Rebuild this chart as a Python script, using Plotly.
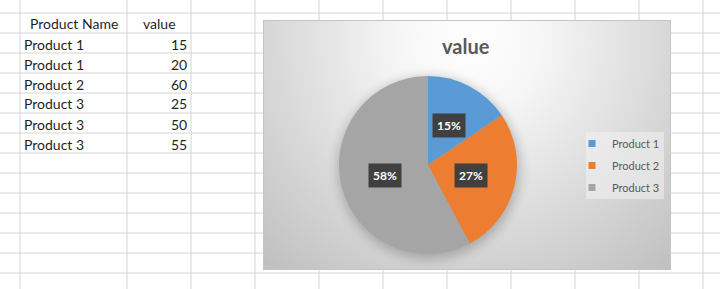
import base64
import math
import plotly.graph_objects as go

# ---------------- data ----------------
row_products = ["Product 1", "Product 1", "Product 2", "Product 3", "Product 3", "Product 3"]
row_values = [15, 20, 60, 25, 50, 55]
header = ["Product Name", "value"]
categories = ["Product 1", "Product 2", "Product 3"]
label_texts = ["15%", "27%", "58%"]  # as printed on the chart
chart_title = "value"

totals = [sum(v for p, v in zip(row_products, row_values) if p == c) for c in categories]

# ---------------- layout constants (pixels) ----------------
W, H = 720, 289
FONT = "Lato"
col_x = [20, 127, 191, 255, 319, 383, 447, 511, 575, 639, 703]
row_y = [13 + 20 * i for i in range(14)]
GRID = "#d4d4d4"
CH_L, CH_R, CH_T, CH_B = 263, 670, 20, 269   # chart object box
PIE_CX, PIE_CY, PIE_R = 428, 165, 89
LEG_L, LEG_R, LEG_T, LEG_B = 586, 664, 132, 199
colors = ["#5B9BD5", "#ED7D31", "#A5A5A5"]


def px(x):
    return x / W


def py(y):
    return 1 - y / H


fig = go.Figure()

fig.add_trace(go.Pie(
    labels=categories,
    values=totals,
    sort=False,
    direction="clockwise",
    rotation=0,
    marker=dict(colors=colors, line=dict(width=0)),
    textinfo="none",
    hoverinfo="label+value+percent",
    domain=dict(x=[px(PIE_CX - PIE_R), px(PIE_CX + PIE_R)],
                y=[py(PIE_CY + PIE_R), py(PIE_CY - PIE_R)]),
    showlegend=False,
))

# legend entries (small square keys like the original)
for c, col in zip(categories, colors):
    fig.add_trace(go.Scatter(x=[None], y=[None], mode="markers", name=c, legendgroup=c,
                             marker=dict(symbol="square", size=7, color=col),
                             hoverinfo="skip", showlegend=True))

# ---------------- spreadsheet grid (split around the chart box) ----------------
shapes = []
for x in col_x:
    if CH_L <= x <= CH_R:
        segs = [(0, CH_T), (CH_B, H)]
    else:
        segs = [(0, H)]
    for y0, y1 in segs:
        shapes.append(dict(type="line", xref="paper", yref="paper",
                           x0=px(x), x1=px(x), y0=py(y0), y1=py(y1),
                           line=dict(color=GRID, width=1), layer="below"))
for y in row_y:
    if CH_T <= y <= CH_B:
        segs = [(0, CH_L), (CH_R, W)]
    else:
        segs = [(0, W)]
    for x0, x1 in segs:
        shapes.append(dict(type="line", xref="paper", yref="paper",
                           x0=px(x0), x1=px(x1), y0=py(y), y1=py(y),
                           line=dict(color=GRID, width=1), layer="below"))

# ---------------- chart background (radial gradient + pie shadow + legend box) ----------------
svg = f'''<svg xmlns="http://www.w3.org/2000/svg" width="{W}" height="{H}" viewBox="0 0 {W} {H}">
<defs>
<radialGradient id="g" gradientUnits="userSpaceOnUse" cx="470" cy="40" r="330">
<stop offset="0" stop-color="#ffffff"/>
<stop offset="0.22" stop-color="#f6f6f6"/>
<stop offset="0.6" stop-color="#d8d8d8"/>
<stop offset="1" stop-color="#bababa"/>
</radialGradient>
<filter id="b" x="-50%" y="-50%" width="200%" height="200%"><feGaussianBlur stdDeviation="6"/></filter>
</defs>
<rect x="{CH_L}.5" y="{CH_T}.5" width="{CH_R - CH_L}" height="{CH_B - CH_T}" fill="url(#g)" stroke="#c4c4c4" stroke-width="1"/>
<circle cx="{PIE_CX + 1}" cy="{PIE_CY + 3}" r="{PIE_R + 2}" fill="#000" opacity="0.22" filter="url(#b)"/>
<rect x="{LEG_L}" y="{LEG_T}" width="{LEG_R - LEG_L}" height="{LEG_B - LEG_T}" fill="#f2f2f2" opacity="0.55"/>
</svg>'''
bg_uri = "data:image/svg+xml;base64," + base64.b64encode(svg.encode()).decode()

# ---------------- text ----------------
annotations = []
TXT = "#1f1f1f"
annotations.append(dict(x=px((col_x[0] + col_x[1]) / 2), y=py(row_y[0] + 11), xref="paper", yref="paper",
                        text=header[0], showarrow=False, xanchor="center", yanchor="middle",
                        font=dict(family=FONT, size=14, color=TXT)))
annotations.append(dict(x=px((col_x[1] + col_x[2]) / 2), y=py(row_y[0] + 11), xref="paper", yref="paper",
                        text=header[1], showarrow=False, xanchor="center", yanchor="middle",
                        font=dict(family=FONT, size=14, color=TXT)))
for i, (p, v) in enumerate(zip(row_products, row_values)):
    yc = row_y[i + 1] + 11
    annotations.append(dict(x=px(col_x[0] + 2), y=py(yc), xref="paper", yref="paper",
                            text=p, showarrow=False, xanchor="left", yanchor="middle",
                            font=dict(family=FONT, size=14, color=TXT)))
    annotations.append(dict(x=px(col_x[2] - 2), y=py(yc), xref="paper", yref="paper",
                            text=str(v), showarrow=False, xanchor="right", yanchor="middle",
                            font=dict(family=FONT, size=14, color=TXT)))

annotations.append(dict(x=px(466), y=py(46), xref="paper", yref="paper", text=f"<b>{chart_title}</b>",
                        showarrow=False, xanchor="center", yanchor="middle",
                        font=dict(family=FONT, size=20, color="#595959")))

tot = sum(totals)
cum = 0
for t, lab in zip(totals, label_texts):
    mid = (cum + t / 2) / tot * 2 * math.pi
    cum += t
    lx = PIE_CX + 0.5 * PIE_R * math.sin(mid)
    ly = PIE_CY - 0.5 * PIE_R * math.cos(mid)
    annotations.append(dict(x=px(lx), y=py(ly), xref="paper", yref="paper", text=f"<b>{lab}</b>",
                            showarrow=False, xanchor="center", yanchor="middle",
                            bgcolor="#404040", borderpad=4,
                            font=dict(family=FONT, size=12, color="#ffffff")))

fig.update_layout(
    width=W, height=H,
    margin=dict(l=0, r=0, t=0, b=0),
    paper_bgcolor="#ffffff",
    plot_bgcolor="rgba(0,0,0,0)",
    shapes=shapes,
    annotations=annotations,
    images=[dict(source=bg_uri, xref="paper", yref="paper", x=0, y=1, sizex=1, sizey=1,
                 xanchor="left", yanchor="top", sizing="stretch", layer="below")],
    legend=dict(x=px(LEG_L - 14), y=py(LEG_T - 3), xanchor="left", yanchor="top",
                bgcolor="rgba(0,0,0,0)", borderwidth=0, tracegroupgap=3,
                itemsizing="trace",
                font=dict(family=FONT, size=11, color="#595959"),
                itemwidth=30),
    xaxis=dict(visible=False), yaxis=dict(visible=False),
)

fig.write_html("out.html")
